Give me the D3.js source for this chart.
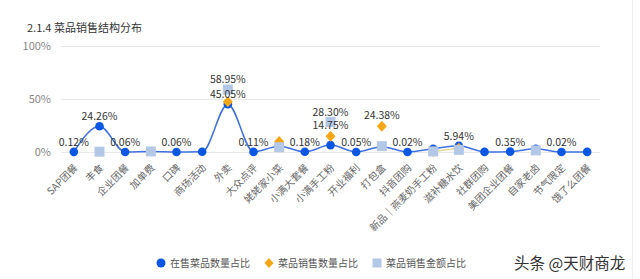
<!DOCTYPE html>
<html>
<head>
<meta charset="utf-8">
<script src="https://cdn.jsdelivr.net/npm/d3@7/dist/d3.min.js"></script>
<style>
  html, body { margin: 0; padding: 0; background: #fff; }
  svg { display: block; font-family: "Noto Sans CJK SC", "Noto Sans", sans-serif; }
</style>
</head>
<body>
<div id="chart"></div>
<script>
// categories (channels)
const categories = ['SAP团餐', '丰食', '企业团餐', '加单费', '口碑', '商场活动', '外卖', '大众点评',
  '姥姥家小菜', '小满大套餐', '小满手工粉', '开业福利', '打包盒', '抖音团购', '新品｜燕麦奶手工粉',
  '滋补糖水饮', '社群团购', '美团企业团餐', '自家老卤', '节气限定', '饿了么团餐'];

// 在售菜品数量占比 (%)
const countShare = [0.12, 24.26, 0.06, 0.4, 0.06, 0.2, 45.05, 0.11,
  5.5, 0.18, 6.5, 0.05, 5.0, 0.02, 3.0,
  5.94, 0.1, 0.35, 3.0, 0.02, 0.1];
// which of them carry a visible label
const countLabelled = ['SAP团餐', '丰食', '企业团餐', '口碑', '外卖', '大众点评', '小满大套餐',
  '开业福利', '抖音团购', '滋补糖水饮', '美团企业团餐', '节气限定'];

// 菜品销售数量占比 (%), null = no data
const qtyShare = [null, null, null, null, null, null, 47.5, null,
  10.0, null, 14.75, null, 24.38, null, 0.4,
  3.5, null, null, null, null, null];
const qtyLabelled = ['小满手工粉', '打包盒'];

// 菜品销售金额占比 (%)
const amtShare = [null, 0.3, null, 0.5, null, null, 58.95, null,
  4.5, null, 28.30, null, 5.5, null, 0.5,
  2.0, null, null, 1.5, null, null];
const amtLabelled = ['外卖', '小满手工粉'];

const yTicks = [0, 50, 100];
const legendNames = ['在售菜品数量占比', '菜品销售数量占比', '菜品销售金额占比'];

const W = 640, H = 279;
const plot = { left: 61, right: 600, top: 46, bottom: 152 };
const blue = '#0b57e3', orange = '#f5a716', pale = '#b3c8e6';

const svg = d3.select('#chart').append('svg')
  .attr('width', W).attr('height', H);

// title
svg.append('text')
  .attr('x', 27).attr('y', 32)
  .attr('font-size', 11).attr('fill', '#333')
  .text('2.1.4 菜品销售结构分布');

// right border line
svg.append('line')
  .attr('x1', 632.5).attr('x2', 632.5).attr('y1', 0).attr('y2', H)
  .attr('stroke', '#eee');

const x = d3.scaleBand().domain(categories).range([plot.left, plot.right]);
const cx = d => x(d) + x.bandwidth() / 2;
const y = d3.scaleLinear().domain([0, 100]).range([plot.bottom, plot.top]);

// grid + y labels
const yAxis = svg.append('g')
  .attr('transform', 'translate(' + plot.left + ',0)')
  .call(d3.axisLeft(y).tickValues(yTicks).tickFormat(d => d + '%')
    .tickSize(-(plot.right - plot.left)).tickPadding(10));
yAxis.select('.domain').remove();
yAxis.selectAll('line').attr('stroke', '#e9e9e9');
yAxis.selectAll('text').attr('fill', '#888').attr('font-size', 11)
  .style('font-family', '"Noto Sans CJK SC", sans-serif');

// x labels
const xAxis = svg.append('g')
  .attr('transform', 'translate(0,' + plot.bottom + ')')
  .call(d3.axisBottom(x).tickSize(0).tickPadding(0));
xAxis.select('.domain').remove();
xAxis.selectAll('text')
  .attr('fill', '#666').attr('font-size', 10)
  .style('font-family', '"Noto Sans CJK SC", sans-serif')
  .attr('text-anchor', 'end')
  .attr('y', 0).attr('dy', '0.35em')
  .attr('transform', 'translate(2,14) rotate(-45)');

// blue line
const rows = categories.map((c, i) => ({ c, count: countShare[i], qty: qtyShare[i], amt: amtShare[i] }));

svg.append('path')
  .datum(rows)
  .attr('fill', 'none').attr('stroke', '#3f6fe0').attr('stroke-width', 1.5)
  .attr('d', d3.line().x(d => cx(d.c)).y(d => y(d.count)).curve(d3.curveMonotoneX));

// qty line (only between neighbouring values)
svg.append('path')
  .datum(rows)
  .attr('fill', 'none').attr('stroke', '#e3d79a').attr('stroke-width', 1.5)
  .attr('d', d3.line().defined(d => d.qty != null).x(d => cx(d.c)).y(d => y(d.qty)));

// blue dots
svg.append('g').selectAll('circle')
  .data(rows).enter().append('circle')
  .attr('cx', d => cx(d.c)).attr('cy', d => y(d.count))
  .attr('r', 4.3).attr('fill', blue);

// orange diamonds
svg.append('g').selectAll('path')
  .data(rows.filter(d => d.qty != null)).enter().append('path')
  .attr('d', 'M0,-5.5L5,0L0,5.5L-5,0Z')
  .attr('transform', d => 'translate(' + cx(d.c) + ',' + y(d.qty) + ')')
  .attr('fill', orange);

// pale squares
svg.append('g').selectAll('rect')
  .data(rows.filter(d => d.amt != null)).enter().append('rect')
  .attr('x', d => cx(d.c) - 5).attr('y', d => y(d.amt) - 5)
  .attr('width', 10).attr('height', 10)
  .attr('fill', pale);

// labels
const fmt = v => v.toFixed(2) + '%';
function labels(key, names, off) {
  svg.append('g').selectAll('text')
    .data(rows.filter(d => names.includes(d.c))).enter().append('text')
    .attr('x', d => cx(d.c)).attr('y', d => y(d[key]) - off)
    .attr('text-anchor', 'middle').attr('font-size', 10.5).attr('fill', '#333')
    .text(d => fmt(d[key]));
}
labels('count', countLabelled, 6);
labels('qty', qtyLabelled, 7);
labels('amt', amtLabelled, 6.5);

// legend
const legendX = [161, 269, 377];
const lg = svg.append('g').attr('transform', 'translate(0,263)');
legendNames.forEach((n, i) => {
  const g = lg.append('g').attr('transform', 'translate(' + legendX[i] + ',0)');
  if (i === 0) g.append('circle').attr('r', 4.5).attr('fill', blue);
  if (i === 1) g.append('path').attr('d', 'M0,-5L4.5,0L0,5L-4.5,0Z').attr('fill', orange);
  if (i === 2) g.append('rect').attr('x', -4.5).attr('y', -4.5).attr('width', 9).attr('height', 9).attr('fill', pale);
  g.append('text').attr('x', 9).attr('dy', '0.35em')
    .attr('font-size', 10).attr('fill', '#555').text(n);
});

// watermark
svg.append('text')
  .attr('x', 514).attr('y', 269)
  .attr('font-size', 15.5).attr('fill', '#333')
  .attr('stroke', '#fff').attr('stroke-width', 2).attr('paint-order', 'stroke')
  .text('头条 @天财商龙');
</script>
</body>
</html>
